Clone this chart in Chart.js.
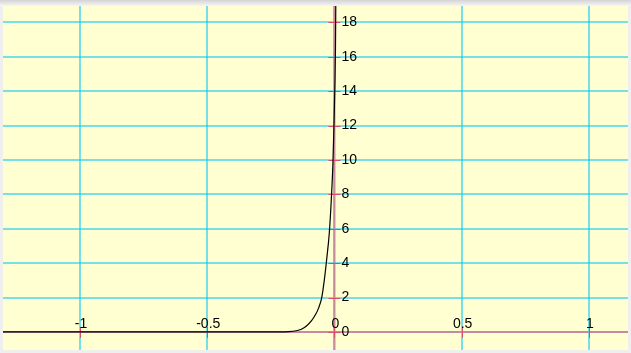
<!DOCTYPE html>
<html>
<head>
<meta charset="utf-8">
<script src="https://cdn.jsdelivr.net/npm/chart.js@4"></script>
<style>
  html, body { margin: 0; padding: 0; }
  body { width: 631px; height: 353px; background: #efefef; position: relative; overflow: hidden; }
  .top-edge { position: absolute; left: 0; top: 0; width: 631px; height: 6px; background: linear-gradient(#d4d4d4, #f6f6f6); }
  .plot { position: absolute; left: 3px; top: 6px; width: 625px; height: 344px; }
</style>
</head>
<body>
<div class="top-edge"></div>
<div class="plot"><canvas id="graph"></canvas></div>
<script>
// curve
const xValues = [-1.31, -0.5, -0.25, -0.18, -0.15, -0.13, -0.11, -0.09, -0.075, -0.062, -0.05, -0.04, -0.03, -0.02, -0.012, -0.006, -0.002, 0.002, 0.004, 0.005, 0.0057];
const yValues = [0, 0, 0, 0.02, 0.07, 0.16, 0.35, 0.66, 1.0, 1.4, 2.0, 3.0, 4.3, 5.8, 7.8, 9.8, 12, 14.5, 16.5, 18.5, 20];

// axis ticks
const xTicks = [-1, -0.5, 0, 0.5, 1];
const yTicks = [0, 2, 4, 6, 8, 10, 12, 14, 16, 18];
const xTickLabels = ['-1', '-0.5', '0', '0.5', '1'];
const yTickLabels = ['0', '2', '4', '6', '8', '10', '12', '14', '16', '18'];

const gridColor = 'rgba(0, 200, 248, 0.55)';
const axisColor = '#c48c9c';
const tickColor = '#d9506e';

const points = xValues.map((x, i) => ({ x: x, y: yValues[i] }));

const bgPlugin = {
  id: 'paper',
  beforeDraw(chart) {
    const ctx = chart.ctx;
    ctx.save();
    ctx.fillStyle = '#ffffd2';
    ctx.fillRect(0, 0, chart.width, chart.height);
    ctx.restore();
  }
};

// axes through the origin, drawn under the curve
const axesPlugin = {
  id: 'centerAxes',
  beforeDatasetsDraw(chart) {
    const ctx = chart.ctx;
    const xs = chart.scales.x;
    const ys = chart.scales.y;
    const area = chart.chartArea;
    const ox = xs.getPixelForValue(0);
    const oy = ys.getPixelForValue(0);
    ctx.save();
    ctx.strokeStyle = axisColor;
    ctx.lineWidth = 2;
    ctx.beginPath();
    ctx.moveTo(area.left, oy);
    ctx.lineTo(area.right, oy);
    ctx.moveTo(ox, area.top);
    ctx.lineTo(ox, area.bottom);
    ctx.stroke();

    ctx.strokeStyle = tickColor;
    ctx.lineWidth = 1;
    ctx.beginPath();
    xTicks.forEach(v => {
      const px = Math.round(xs.getPixelForValue(v)) + 0.5;
      ctx.moveTo(px, oy - 5);
      ctx.lineTo(px, oy + 6);
    });
    yTicks.forEach(v => {
      const py = Math.round(ys.getPixelForValue(v)) + 0.5;
      ctx.moveTo(ox - 6, py);
      ctx.lineTo(ox + 6, py);
    });
    ctx.stroke();

    ctx.fillStyle = '#000';
    ctx.font = '14px "Liberation Sans", Arial, sans-serif';
    ctx.textAlign = 'center';
    ctx.textBaseline = 'alphabetic';
    xTicks.forEach((v, i) => {
      ctx.fillText(xTickLabels[i], xs.getPixelForValue(v) + 1, oy - 4);
    });
    ctx.textAlign = 'left';
    ctx.textBaseline = 'middle';
    yTicks.forEach((v, i) => {
      ctx.fillText(yTickLabels[i], ox + 7, ys.getPixelForValue(v));
    });
    ctx.restore();
  }
};

new Chart(document.getElementById('graph'), {
  type: 'scatter',
  data: {
    datasets: [{
      data: points,
      showLine: true,
      borderColor: '#000',
      borderWidth: 1.2,
      pointRadius: 0,
      cubicInterpolationMode: 'monotone'
    }]
  },
  options: {
    responsive: true,
    maintainAspectRatio: false,
    animation: false,
    layout: { padding: 0 },
    plugins: { legend: { display: false }, tooltip: { enabled: false } },
    scales: {
      x: {
        type: 'linear',
        min: -1.303,
        max: 1.154,
        afterBuildTicks: scale => { scale.ticks = xTicks.map(v => ({ value: v })); },
        ticks: { display: false },
        border: { display: false },
        grid: { color: gridColor, lineWidth: 2, drawTicks: false }
      },
      y: {
        type: 'linear',
        min: -1.05,
        max: 18.95,
        afterBuildTicks: scale => { scale.ticks = yTicks.map(v => ({ value: v })); },
        ticks: { display: false },
        border: { display: false },
        grid: { color: gridColor, lineWidth: 2, drawTicks: false }
      }
    }
  },
  plugins: [bgPlugin, axesPlugin]
});
</script>
</body>
</html>
